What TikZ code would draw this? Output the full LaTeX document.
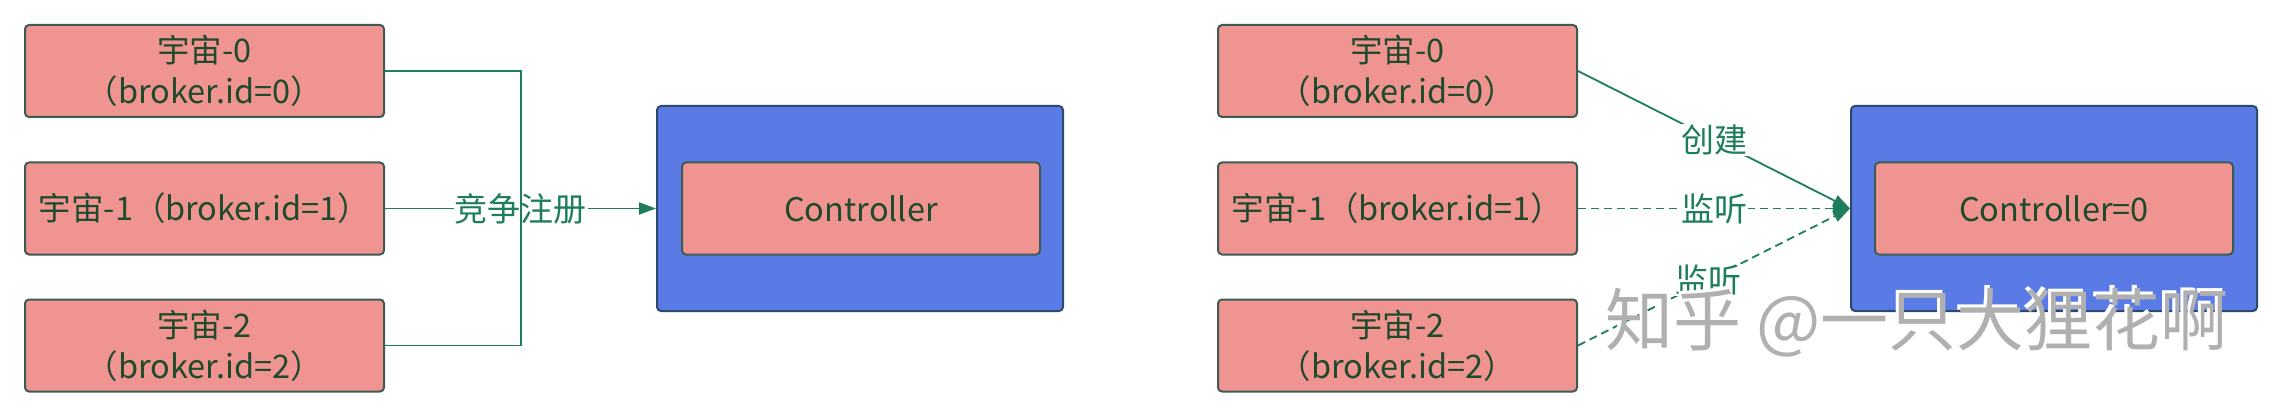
\documentclass[tikz,border=0pt]{standalone}
\usepackage{fontspec}
\setmainfont{Noto Sans CJK SC}
\usetikzlibrary{arrows.meta}

\definecolor{boxpink}{HTML}{F09492}
\definecolor{boxedge}{HTML}{3E5B52}
\definecolor{ctrlblue}{HTML}{5A7BE6}
\definecolor{ctrledge}{HTML}{2E4A6A}
\definecolor{txtgreen}{HTML}{1F4A2C}
\definecolor{linkgreen}{HTML}{1D7D5C}
\definecolor{markgray}{HTML}{B0B0B0}

\tikzset{
  brokerbox/.style={draw=boxedge, line width=2pt, fill=boxpink, rounded corners=4pt,
    minimum width=359pt, minimum height=92pt, inner sep=0pt, align=center,
    text=txtgreen, font=\fontsize{32.5}{41}\selectfont},
  ctrlbox/.style={draw=ctrledge, line width=2pt, fill=ctrlblue, rounded corners=4pt,
    minimum width=406pt, minimum height=205pt, inner sep=0pt},
  link/.style={draw=linkgreen, line width=1.8pt, -{Triangle[length=17pt,width=12pt]}},
  feed/.style={draw=linkgreen, line width=1.8pt},
  listen/.style={link, dash pattern=on 8pt off 5pt},
  edgelabel/.style={fill=white, text=linkgreen, inner sep=1pt, font=\fontsize{33}{36}\selectfont}
}

\begin{document}
\begin{tikzpicture}[x=1pt, y=-1pt]
  \useasboundingbox (0,0) rectangle (2281,417);

  % left: brokers compete to register
  \node[brokerbox] (b0) at (204.5,71)    {宇宙-0\\（broker.id=0）};
  \node[brokerbox] (b1) at (204.5,208.5) {宇宙-1（broker.id=1）};
  \node[brokerbox] (b2) at (204.5,345.5) {宇宙-2\\（broker.id=2）};
  \node[ctrlbox]   (ctrl) at (860,208.5) {};
  \node[brokerbox, minimum width=358pt] (ctrlin) at (861,208.5) {Controller};
  \coordinate (join) at (521,208.5);

  \draw[link] (b1.east) -- node[edgelabel] {竞争注册} (ctrl.west);
  \draw[feed] (b0.east) -| (join);
  \draw[feed] (b2.east) -| (join);

  % right: broker 0 wins, the others listen
  \node[brokerbox] (c0) at (1397.5,71)    {宇宙-0\\（broker.id=0）};
  \node[brokerbox] (c1) at (1397.5,208.5) {宇宙-1（broker.id=1）};
  \node[brokerbox] (c2) at (1397.5,345.5) {宇宙-2\\（broker.id=2）};
  \node[ctrlbox]   (rctrl) at (2054,208.5) {};
  \node[brokerbox, minimum width=358pt] (rctrlin) at (2054,208.5) {Controller=0};

  \draw[link]   (c0.east) -- node[edgelabel] {创建} (rctrl.west);
  \draw[listen] (c1.east) -- node[edgelabel] {监听} (rctrl.west);
  \draw[listen] (c2.east) -- node[edgelabel, pos=0.48] {监听} (rctrl.west);

  % watermark
  \node[text=white, font=\fontsize{68}{70}\selectfont] (markshade) at (1914,320) {知乎 @一只大狸花啊};
  \node[text=markgray, font=\fontsize{68}{70}\selectfont] (mark) at (1917,323) {知乎 @一只大狸花啊};
\end{tikzpicture}
\end{document}
